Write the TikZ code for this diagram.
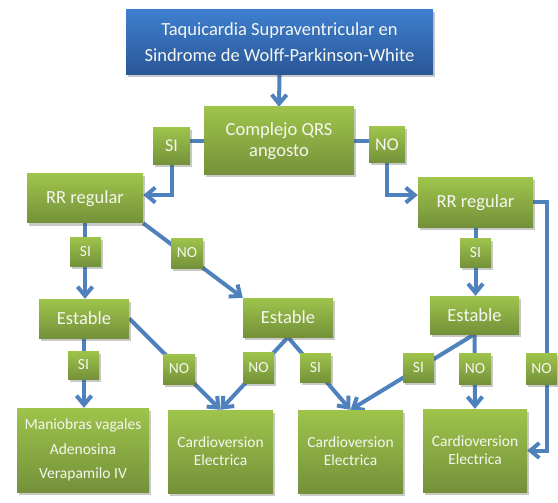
\documentclass[tikz,border=0pt]{standalone}
\usepackage{fontspec}
\setmainfont{Carlito}
\usetikzlibrary{arrows.meta,shadows,calc,backgrounds}
\definecolor{lineblue}{RGB}{79,129,189}
\definecolor{gtop}{RGB}{158,196,75}
\definecolor{gbot}{RGB}{116,145,58}
\definecolor{btop}{RGB}{62,127,207}
\definecolor{bbot}{RGB}{42,86,150}
\definecolor{txt}{RGB}{246,246,240}
\begin{document}
\begin{tikzpicture}[x=1pt,y=-1pt,
  box/.style={draw=none, text=txt, align=center, inner sep=0pt,
    drop shadow={shadow xshift=2pt,shadow yshift=-2.5pt,opacity=0.3,fill=black!70}},
  gbox/.style={box, top color=gtop, bottom color=gbot},
  bbox/.style={box, top color=btop, bottom color=bbot},
  big/.style={font=\fontsize{18.5}{21}\selectfont},
  lab/.style={gbox, font=\fontsize{15.5}{18}\selectfont, minimum width=31, minimum height=29},
  biglab/.style={gbox, font=\fontsize{18}{20}\selectfont, minimum width=37, minimum height=37},
  ce/.style={gbox, font=\fontsize{15.5}{18}\selectfont, minimum width=105, minimum height=83},
  conn/.style={draw=lineblue, line width=4pt, -{Straight Barb[length=9pt,width=15pt]}},
  plain/.style={draw=lineblue, line width=4pt}
]
\useasboundingbox (0,0) rectangle (558,503);
% main boxes
\node[bbox, minimum width=307, minimum height=65, font=\fontsize{18.5}{26}\selectfont] (title) at (279.5,42.5) {Taquicardia Supraventricular en\\Sindrome de Wolff-Parkinson-White};
\node[gbox, big, minimum width=150, minimum height=68] (cq) at (279,141) {Complejo QRS\\angosto};
\node[gbox, big, minimum width=116, minimum height=49] (rr1) at (85,198.5) {RR regular};
\node[gbox, big, minimum width=115, minimum height=49] (rr2) at (475.5,202.5) {RR regular};
\node[gbox, big, minimum width=90, minimum height=39] (es1) at (84,318.5) {Estable};
\node[gbox, big, minimum width=90, minimum height=39] (es2) at (288,317.5) {Estable};
\node[gbox, big, minimum width=89, minimum height=38] (es3) at (474.5,315) {Estable};
\node[gbox, font=\fontsize{15.5}{24.5}\selectfont, minimum width=132, minimum height=84] (mani) at (83,450) {Maniobras vagales\\Adenosina\\Verapamilo IV};
\node[ce] (ce1) at (220.5,451.5) {Cardioversion\\Electrica};
\node[ce] (ce2) at (350.5,451.5) {Cardioversion\\Electrica};
\node[ce, minimum width=104] (ce3) at (475,450.5) {Cardioversion\\Electrica};
% labels
\node[biglab] (si0) at (171.5,146) {SI};
\node[biglab, minimum width=36, minimum height=36] (no0) at (387,145) {NO};
\node[lab] (si1) at (85.5,251.5) {SI};
\node[lab, minimum width=32, minimum height=30] (no1) at (187,253) {NO};
\node[lab] (si2) at (475.5,252.5) {SI};
\node[lab, minimum height=28] (si3) at (83.5,365) {SI};
\node[lab, minimum width=32, minimum height=30] (no2) at (179,369) {NO};
\node[lab, minimum height=31] (no3) at (258.5,367.5) {NO};
\node[lab] (si4) at (315.5,367.5) {SI};
\node[lab] (si5) at (418.5,367.5) {SI};
\node[lab, minimum width=32, minimum height=31] (no4) at (475,368.5) {NO};
\node[lab, minimum height=31] (no5) at (541.5,368.5) {NO};
% connectors
\coordinate (rr1in) at ($(rr1.north east)!0.43!(rr1.south east)$);
\coordinate (rr2in) at ($(rr2.north west)!0.35!(rr2.south west)$);
\begin{scope}[on background layer]
\draw[conn] (title.south) -- (cq.north);
\draw[plain] (cq.west) -- (cq.west -| si0.east);
\draw[conn] (si0.south) |- (rr1in);
\draw[plain] (cq.east) -- (cq.east -| no0.west);
\draw[conn] (no0.south) |- (rr2in);
\draw[conn] (rr1.south) -- (rr1.south |- es1.north);
\draw[conn] (rr1.south east) -- (es2.north west);
\draw[conn] (rr2.south) -- (rr2.south |- es3.north);
\draw[conn] (rr2.east) -- ++(14,0) |- (ce3.east);
\draw[conn] (es1.south) -- (es1.south |- mani.north);
\draw[conn] (es1.east) -- (ce1.north);
\draw[conn] (es2.south) -- (ce1.north);
\draw[conn] (es2.south) -- (ce2.north);
\draw[conn] (es3.south) -- (ce2.north);
\draw[conn] (es3.south) -- (ce3.north);
\end{scope}
\end{tikzpicture}
\end{document}
